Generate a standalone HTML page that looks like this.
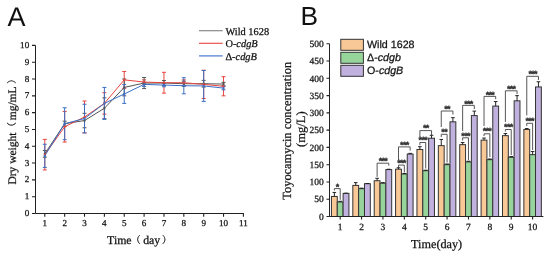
<!DOCTYPE html>
<html><head><meta charset="utf-8"><title>Figure</title>
<style>html,body{margin:0;padding:0;background:#fff;}text{stroke:#111;stroke-width:0.25px;}svg{text-rendering:geometricPrecision;}body{width:550px;height:256px;overflow:hidden;}svg{display:block;}</style>
</head><body>
<svg width="550" height="256" viewBox="0 0 550 256">
<rect width="550" height="256" fill="#fff"/>
<text x="7.6" y="25.5" font-family="'Liberation Sans',sans-serif" font-size="27" fill="#111" style="stroke:none">A</text>
<path d="M35.5 45.4V213.5H243.9" fill="none" stroke="#222" stroke-width="1"/>
<path d="M32 213.5H35.5 M32 196.69H35.5 M32 179.88H35.5 M32 163.07H35.5 M32 146.26H35.5 M32 129.45H35.5 M32 112.64H35.5 M32 95.83H35.5 M32 79.02H35.5 M32 62.21H35.5 M32 45.4H35.5 M44.8 213.5V216.7 M64.66 213.5V216.7 M84.52 213.5V216.7 M104.38 213.5V216.7 M124.24 213.5V216.7 M144.1 213.5V216.7 M163.96 213.5V216.7 M183.82 213.5V216.7 M203.68 213.5V216.7 M223.54 213.5V216.7 M243.4 213.5V216.7" fill="none" stroke="#222" stroke-width="1.1"/>
<text x="29.2" y="216.1" text-anchor="end" font-family="'Liberation Serif','Noto Serif CJK SC',serif" font-size="9.1" fill="#111">0</text>
<text x="29.2" y="199.29" text-anchor="end" font-family="'Liberation Serif','Noto Serif CJK SC',serif" font-size="9.1" fill="#111">1</text>
<text x="29.2" y="182.48" text-anchor="end" font-family="'Liberation Serif','Noto Serif CJK SC',serif" font-size="9.1" fill="#111">2</text>
<text x="29.2" y="165.67" text-anchor="end" font-family="'Liberation Serif','Noto Serif CJK SC',serif" font-size="9.1" fill="#111">3</text>
<text x="29.2" y="148.86" text-anchor="end" font-family="'Liberation Serif','Noto Serif CJK SC',serif" font-size="9.1" fill="#111">4</text>
<text x="29.2" y="132.05" text-anchor="end" font-family="'Liberation Serif','Noto Serif CJK SC',serif" font-size="9.1" fill="#111">5</text>
<text x="29.2" y="115.24" text-anchor="end" font-family="'Liberation Serif','Noto Serif CJK SC',serif" font-size="9.1" fill="#111">6</text>
<text x="29.2" y="98.43" text-anchor="end" font-family="'Liberation Serif','Noto Serif CJK SC',serif" font-size="9.1" fill="#111">7</text>
<text x="29.2" y="81.62" text-anchor="end" font-family="'Liberation Serif','Noto Serif CJK SC',serif" font-size="9.1" fill="#111">8</text>
<text x="29.2" y="64.81" text-anchor="end" font-family="'Liberation Serif','Noto Serif CJK SC',serif" font-size="9.1" fill="#111">9</text>
<text x="29.2" y="48" text-anchor="end" font-family="'Liberation Serif','Noto Serif CJK SC',serif" font-size="9.1" fill="#111">10</text>
<text x="44.8" y="226.3" text-anchor="middle" font-family="'Liberation Serif','Noto Serif CJK SC',serif" font-size="9.1" fill="#111">1</text>
<text x="64.66" y="226.3" text-anchor="middle" font-family="'Liberation Serif','Noto Serif CJK SC',serif" font-size="9.1" fill="#111">2</text>
<text x="84.52" y="226.3" text-anchor="middle" font-family="'Liberation Serif','Noto Serif CJK SC',serif" font-size="9.1" fill="#111">3</text>
<text x="104.38" y="226.3" text-anchor="middle" font-family="'Liberation Serif','Noto Serif CJK SC',serif" font-size="9.1" fill="#111">4</text>
<text x="124.24" y="226.3" text-anchor="middle" font-family="'Liberation Serif','Noto Serif CJK SC',serif" font-size="9.1" fill="#111">5</text>
<text x="144.1" y="226.3" text-anchor="middle" font-family="'Liberation Serif','Noto Serif CJK SC',serif" font-size="9.1" fill="#111">6</text>
<text x="163.96" y="226.3" text-anchor="middle" font-family="'Liberation Serif','Noto Serif CJK SC',serif" font-size="9.1" fill="#111">7</text>
<text x="183.82" y="226.3" text-anchor="middle" font-family="'Liberation Serif','Noto Serif CJK SC',serif" font-size="9.1" fill="#111">8</text>
<text x="203.68" y="226.3" text-anchor="middle" font-family="'Liberation Serif','Noto Serif CJK SC',serif" font-size="9.1" fill="#111">9</text>
<text x="223.54" y="226.3" text-anchor="middle" font-family="'Liberation Serif','Noto Serif CJK SC',serif" font-size="9.1" fill="#111">10</text>
<text x="243.4" y="226.3" text-anchor="middle" font-family="'Liberation Serif','Noto Serif CJK SC',serif" font-size="9.1" fill="#111">11</text>
<text y="244.3" font-family="'Liberation Serif','Noto Serif CJK SC',serif" font-size="11.8" fill="#111"><tspan x="107.1">Time</tspan><tspan x="131.3" y="243.4" font-family="'Liberation Serif','Noto Serif CJK SC',serif" font-size="9.4">（</tspan><tspan x="143.2" y="244.3">day</tspan><tspan x="161.9" y="243.4" font-family="'Liberation Serif','Noto Serif CJK SC',serif" font-size="9.4">）</tspan></text>
<text transform="translate(15.8 184.6) rotate(-90)" y="0" font-family="'Liberation Serif','Noto Serif CJK SC',serif" font-size="11.5" fill="#111"><tspan x="0">Dry weight</tspan><tspan x="53.2" y="-0.9" font-family="'Liberation Serif','Noto Serif CJK SC',serif" font-size="9.4">（</tspan><tspan x="64.3" y="0">mg/mL</tspan><tspan x="100.9" y="-0.9" font-family="'Liberation Serif','Noto Serif CJK SC',serif" font-size="9.4">）</tspan></text>
<path d="M44.8 139.37V169.96M42.8 139.37H46.8M42.8 169.96H46.8M64.66 111.46V142.06M62.66 111.46H66.66M62.66 142.06H66.66M84.52 101.04V132.98M82.52 101.04H86.52M82.52 132.98H86.52M104.38 92.64V114.15M102.38 92.64H106.38M102.38 114.15H106.38M124.24 71.46V88.27M122.24 71.46H126.24M122.24 88.27H126.24M144.1 79.86V84.23M142.1 79.86H146.1M142.1 84.23H146.1M163.96 72.3V93.14M161.96 72.3H165.96M161.96 93.14H165.96M183.82 79.86V85.58M181.82 79.86H185.82M181.82 85.58H185.82M203.68 70.28V98.52M201.68 70.28H205.68M201.68 98.52H205.68M223.54 76.67V95.83M221.54 76.67H225.54M221.54 95.83H225.54" fill="none" stroke="#e8443e" stroke-width="1.0"/>
<path d="M44.8 150.46V157.19M42.8 150.46H46.8M42.8 157.19H46.8M64.66 121.21V126.26M62.66 121.21H66.66M62.66 126.26H66.66M84.52 113.31V127.77M82.52 113.31H86.52M82.52 127.77H86.52M104.38 97.85V118.69M102.38 97.85H106.38M102.38 118.69H106.38M124.24 79.02V95.83M122.24 79.02H126.24M122.24 95.83H126.24M144.1 77.51V88.6M142.1 77.51H146.1M142.1 88.6H146.1M163.96 80.53V85.58M161.96 80.53H165.96M161.96 85.58H165.96M183.82 81.21V86.25M181.82 81.21H185.82M181.82 86.25H185.82M203.68 80.36V87.09M201.68 80.36H205.68M201.68 87.09H205.68M223.54 82.38V85.74M221.54 82.38H225.54M221.54 85.74H225.54" fill="none" stroke="#555" stroke-width="1.0"/>
<path d="M44.8 144.24V167.44M42.8 144.24H46.8M42.8 167.44H46.8M64.66 107.77V139.7M62.66 107.77H66.66M62.66 139.7H66.66M84.52 104.24V132.81M82.52 104.24H86.52M82.52 132.81H86.52M104.38 87.43V119.36M102.38 87.43H106.38M102.38 119.36H106.38M124.24 84.57V103.39M122.24 84.57H126.24M122.24 103.39H126.24M144.1 82.38V86.42M142.1 82.38H146.1M142.1 86.42H146.1M163.96 83.39V86.75M161.96 83.39H165.96M161.96 86.75H165.96M183.82 77.68V93.81M181.82 77.68H185.82M181.82 93.81H185.82M203.68 70.45V101.38M201.68 70.45H205.68M201.68 101.38H205.68M223.54 86.42V89.78M221.54 86.42H225.54M221.54 89.78H225.54" fill="none" stroke="#3b6fc5" stroke-width="1.0"/>
<polyline points="44.8,153.82 64.66,123.73 84.52,120.54 104.38,108.27 124.24,87.43 144.1,83.05 163.96,83.05 183.82,83.73 203.68,83.73 223.54,84.06" fill="none" stroke="#555" stroke-width="1.0"/>
<polyline points="44.8,154.67 64.66,126.76 84.52,117.01 104.38,103.39 124.24,79.86 144.1,82.05 163.96,82.72 183.82,82.72 203.68,84.4 223.54,86.25" fill="none" stroke="#e8443e" stroke-width="1.0"/>
<polyline points="44.8,155.84 64.66,123.73 84.52,118.52 104.38,103.39 124.24,93.98 144.1,84.4 163.96,85.07 183.82,85.74 203.68,85.91 223.54,88.1" fill="none" stroke="#3b6fc5" stroke-width="1.0"/>
<rect x="43.8" y="152.82" width="2" height="2" fill="#555"/>
<rect x="63.66" y="122.73" width="2" height="2" fill="#555"/>
<rect x="83.52" y="119.54" width="2" height="2" fill="#555"/>
<rect x="103.38" y="107.27" width="2" height="2" fill="#555"/>
<rect x="123.24" y="86.43" width="2" height="2" fill="#555"/>
<rect x="143.1" y="82.05" width="2" height="2" fill="#555"/>
<rect x="162.96" y="82.05" width="2" height="2" fill="#555"/>
<rect x="182.82" y="82.73" width="2" height="2" fill="#555"/>
<rect x="202.68" y="82.73" width="2" height="2" fill="#555"/>
<rect x="222.54" y="83.06" width="2" height="2" fill="#555"/>
<rect x="43.8" y="153.67" width="2" height="2" fill="#e8443e"/>
<rect x="63.66" y="125.76" width="2" height="2" fill="#e8443e"/>
<rect x="83.52" y="116.01" width="2" height="2" fill="#e8443e"/>
<rect x="103.38" y="102.39" width="2" height="2" fill="#e8443e"/>
<rect x="123.24" y="78.86" width="2" height="2" fill="#e8443e"/>
<rect x="143.1" y="81.05" width="2" height="2" fill="#e8443e"/>
<rect x="162.96" y="81.72" width="2" height="2" fill="#e8443e"/>
<rect x="182.82" y="81.72" width="2" height="2" fill="#e8443e"/>
<rect x="202.68" y="83.4" width="2" height="2" fill="#e8443e"/>
<rect x="222.54" y="85.25" width="2" height="2" fill="#e8443e"/>
<rect x="43.8" y="154.84" width="2" height="2" fill="#3b6fc5"/>
<rect x="63.66" y="122.73" width="2" height="2" fill="#3b6fc5"/>
<rect x="83.52" y="117.52" width="2" height="2" fill="#3b6fc5"/>
<rect x="103.38" y="102.39" width="2" height="2" fill="#3b6fc5"/>
<rect x="123.24" y="92.98" width="2" height="2" fill="#3b6fc5"/>
<rect x="143.1" y="83.4" width="2" height="2" fill="#3b6fc5"/>
<rect x="162.96" y="84.07" width="2" height="2" fill="#3b6fc5"/>
<rect x="182.82" y="84.74" width="2" height="2" fill="#3b6fc5"/>
<rect x="202.68" y="84.91" width="2" height="2" fill="#3b6fc5"/>
<rect x="222.54" y="87.1" width="2" height="2" fill="#3b6fc5"/>
<path d="M199 30.7H222.7" stroke="#8a8a8a" stroke-width="1.2"/>
<text x="225.4" y="34.6" font-family="'Liberation Serif','Noto Serif CJK SC',serif" font-size="10.4" fill="#111">Wild 1628</text>
<path d="M199 43.3H222.7" stroke="#ea5252" stroke-width="1.2"/>
<text x="225.4" y="47.2" font-family="'Liberation Serif','Noto Serif CJK SC',serif" font-size="10.4" fill="#111">O-<tspan font-style="italic">cdgB</tspan></text>
<path d="M199 55.9H222.7" stroke="#4a7acc" stroke-width="1.2"/>
<text x="225.4" y="59.8" font-family="'Liberation Serif','Noto Serif CJK SC',serif" font-size="10.4" fill="#111">Δ-<tspan font-style="italic">cdgB</tspan></text>
<text x="300.4" y="25.2" font-family="'Liberation Sans',sans-serif" font-size="26.3" fill="#111" style="stroke:none">B</text>
<rect x="331.44" y="196.46" width="5.83" height="20.04" fill="#f9c897" stroke="#333" stroke-width="1"/>
<rect x="337.27" y="201.99" width="5.83" height="14.51" fill="#97d49b" stroke="#333" stroke-width="1"/>
<rect x="343.11" y="193.35" width="5.83" height="23.15" fill="#c0b1de" stroke="#333" stroke-width="1"/>
<rect x="352.82" y="185.41" width="5.83" height="31.09" fill="#f9c897" stroke="#333" stroke-width="1"/>
<rect x="358.65" y="188.69" width="5.83" height="27.81" fill="#97d49b" stroke="#333" stroke-width="1"/>
<rect x="364.49" y="183.68" width="5.83" height="32.82" fill="#c0b1de" stroke="#333" stroke-width="1"/>
<rect x="374.2" y="180.74" width="5.83" height="35.76" fill="#f9c897" stroke="#333" stroke-width="1"/>
<rect x="380.03" y="183.16" width="5.83" height="33.34" fill="#97d49b" stroke="#333" stroke-width="1"/>
<rect x="385.87" y="169.58" width="5.83" height="46.92" fill="#c0b1de" stroke="#333" stroke-width="1"/>
<rect x="395.58" y="169.17" width="5.83" height="47.33" fill="#f9c897" stroke="#333" stroke-width="1"/>
<rect x="401.41" y="174" width="5.83" height="42.5" fill="#97d49b" stroke="#333" stroke-width="1"/>
<rect x="407.25" y="154.07" width="5.83" height="62.43" fill="#c0b1de" stroke="#333" stroke-width="1"/>
<rect x="416.96" y="149.47" width="5.83" height="67.03" fill="#f9c897" stroke="#333" stroke-width="1"/>
<rect x="422.79" y="170.72" width="5.83" height="45.78" fill="#97d49b" stroke="#333" stroke-width="1"/>
<rect x="428.62" y="138.24" width="5.83" height="78.26" fill="#c0b1de" stroke="#333" stroke-width="1"/>
<rect x="438.34" y="145.67" width="5.83" height="70.83" fill="#f9c897" stroke="#333" stroke-width="1"/>
<rect x="444.17" y="164.68" width="5.83" height="51.82" fill="#97d49b" stroke="#333" stroke-width="1"/>
<rect x="450" y="121.83" width="5.83" height="94.67" fill="#c0b1de" stroke="#333" stroke-width="1"/>
<rect x="459.72" y="144.64" width="5.83" height="71.86" fill="#f9c897" stroke="#333" stroke-width="1"/>
<rect x="465.55" y="161.91" width="5.83" height="54.59" fill="#97d49b" stroke="#333" stroke-width="1"/>
<rect x="471.38" y="115.61" width="5.83" height="100.89" fill="#c0b1de" stroke="#333" stroke-width="1"/>
<rect x="481.1" y="140.14" width="5.83" height="76.36" fill="#f9c897" stroke="#333" stroke-width="1"/>
<rect x="486.93" y="159.67" width="5.83" height="56.83" fill="#97d49b" stroke="#333" stroke-width="1"/>
<rect x="492.76" y="106.08" width="5.83" height="110.42" fill="#c0b1de" stroke="#333" stroke-width="1"/>
<rect x="502.48" y="135.65" width="5.83" height="80.85" fill="#f9c897" stroke="#333" stroke-width="1"/>
<rect x="508.31" y="157.25" width="5.83" height="59.25" fill="#97d49b" stroke="#333" stroke-width="1"/>
<rect x="514.14" y="100.83" width="5.83" height="115.67" fill="#c0b1de" stroke="#333" stroke-width="1"/>
<rect x="523.87" y="129.43" width="5.83" height="87.07" fill="#f9c897" stroke="#333" stroke-width="1"/>
<rect x="529.7" y="154.66" width="5.83" height="61.84" fill="#97d49b" stroke="#333" stroke-width="1"/>
<rect x="535.52" y="86.94" width="5.83" height="129.56" fill="#c0b1de" stroke="#333" stroke-width="1"/>
<path d="M334.36 196.46V192.45M332.56 192.45H336.16M340.19 201.99V201.3M338.39 201.3H341.99M346.02 193.35V193.21M344.22 193.21H347.82M355.74 185.41V182.64M353.94 182.64H357.54M361.57 188.69V188.17M359.77 188.17H363.37M367.4 183.68V183.54M365.6 183.54H369.2M377.12 180.74V178.32M375.32 178.32H378.92M382.95 183.16V182.64M381.15 182.64H384.75M388.78 169.58V169.24M386.98 169.24H390.58M398.5 169.17V167.78M396.7 167.78H400.3M404.33 174V173.49M402.53 173.49H406.13M410.16 154.07V153.38M408.36 153.38H411.96M419.88 149.47V146.71M418.08 146.71H421.68M425.71 170.72V170.2M423.91 170.2H427.51M431.54 138.24V135.31M429.74 135.31H433.34M441.26 145.67V139.45M439.46 139.45H443.06M447.09 164.68V163.98M445.29 163.98H448.89M452.92 121.83V117.69M451.12 117.69H454.72M462.64 144.64V142.56M460.84 142.56H464.44M468.47 161.91V161.22M466.67 161.22H470.27M474.3 115.61V111.12M472.5 111.12H476.1M484.02 140.14V138.07M482.22 138.07H485.82M489.85 159.67V158.97M488.05 158.97H491.65M495.68 106.08V101.59M493.88 101.59H497.48M505.4 135.65V133.58M503.6 133.58H507.2M511.23 157.25V156.56M509.43 156.56H513.03M517.06 100.83V95.64M515.26 95.64H518.86M526.78 129.43V128.57M524.98 128.57H528.58M532.61 154.66V151.55M530.81 151.55H534.41M538.44 86.94V81.76M536.64 81.76H540.24" fill="none" stroke="#222" stroke-width="1"/>
<path d="M329.5 43.75V216.5H543.4" fill="none" stroke="#222" stroke-width="1"/>
<path d="M326.5 216.5H329.5 M326.5 199.22H329.5 M326.5 181.95H329.5 M326.5 164.68H329.5 M326.5 147.4H329.5 M326.5 130.12H329.5 M326.5 112.85H329.5 M326.5 95.58H329.5 M326.5 78.3H329.5 M326.5 61.03H329.5 M326.5 43.75H329.5 M340.19 216.5V219.5 M361.57 216.5V219.5 M382.95 216.5V219.5 M404.33 216.5V219.5 M425.71 216.5V219.5 M447.09 216.5V219.5 M468.47 216.5V219.5 M489.85 216.5V219.5 M511.23 216.5V219.5 M532.61 216.5V219.5" fill="none" stroke="#222" stroke-width="1.1"/>
<text x="323.7" y="219.7" text-anchor="end" font-family="'Liberation Serif','Noto Serif CJK SC',serif" font-size="9.5" fill="#111">0</text>
<text x="323.7" y="202.42" text-anchor="end" font-family="'Liberation Serif','Noto Serif CJK SC',serif" font-size="9.5" fill="#111">50</text>
<text x="323.7" y="185.15" text-anchor="end" font-family="'Liberation Serif','Noto Serif CJK SC',serif" font-size="9.5" fill="#111">100</text>
<text x="323.7" y="167.88" text-anchor="end" font-family="'Liberation Serif','Noto Serif CJK SC',serif" font-size="9.5" fill="#111">150</text>
<text x="323.7" y="150.6" text-anchor="end" font-family="'Liberation Serif','Noto Serif CJK SC',serif" font-size="9.5" fill="#111">200</text>
<text x="323.7" y="133.32" text-anchor="end" font-family="'Liberation Serif','Noto Serif CJK SC',serif" font-size="9.5" fill="#111">250</text>
<text x="323.7" y="116.05" text-anchor="end" font-family="'Liberation Serif','Noto Serif CJK SC',serif" font-size="9.5" fill="#111">300</text>
<text x="323.7" y="98.78" text-anchor="end" font-family="'Liberation Serif','Noto Serif CJK SC',serif" font-size="9.5" fill="#111">350</text>
<text x="323.7" y="81.5" text-anchor="end" font-family="'Liberation Serif','Noto Serif CJK SC',serif" font-size="9.5" fill="#111">400</text>
<text x="323.7" y="64.23" text-anchor="end" font-family="'Liberation Serif','Noto Serif CJK SC',serif" font-size="9.5" fill="#111">450</text>
<text x="323.7" y="46.95" text-anchor="end" font-family="'Liberation Serif','Noto Serif CJK SC',serif" font-size="9.5" fill="#111">500</text>
<text x="340.19" y="229.6" text-anchor="middle" font-family="'Liberation Serif','Noto Serif CJK SC',serif" font-size="9.5" fill="#111">1</text>
<text x="361.57" y="229.6" text-anchor="middle" font-family="'Liberation Serif','Noto Serif CJK SC',serif" font-size="9.5" fill="#111">2</text>
<text x="382.95" y="229.6" text-anchor="middle" font-family="'Liberation Serif','Noto Serif CJK SC',serif" font-size="9.5" fill="#111">3</text>
<text x="404.33" y="229.6" text-anchor="middle" font-family="'Liberation Serif','Noto Serif CJK SC',serif" font-size="9.5" fill="#111">4</text>
<text x="425.71" y="229.6" text-anchor="middle" font-family="'Liberation Serif','Noto Serif CJK SC',serif" font-size="9.5" fill="#111">5</text>
<text x="447.09" y="229.6" text-anchor="middle" font-family="'Liberation Serif','Noto Serif CJK SC',serif" font-size="9.5" fill="#111">6</text>
<text x="468.47" y="229.6" text-anchor="middle" font-family="'Liberation Serif','Noto Serif CJK SC',serif" font-size="9.5" fill="#111">7</text>
<text x="489.85" y="229.6" text-anchor="middle" font-family="'Liberation Serif','Noto Serif CJK SC',serif" font-size="9.5" fill="#111">8</text>
<text x="511.23" y="229.6" text-anchor="middle" font-family="'Liberation Serif','Noto Serif CJK SC',serif" font-size="9.5" fill="#111">9</text>
<text x="532.61" y="229.6" text-anchor="middle" font-family="'Liberation Serif','Noto Serif CJK SC',serif" font-size="9.5" fill="#111">10</text>
<text x="411.1" y="247.9" font-family="'Liberation Serif','Noto Serif CJK SC',serif" font-size="12.2" fill="#111">Time(day)</text>
<text transform="translate(291.2 199.7) rotate(-90)" font-family="'Liberation Serif','Noto Serif CJK SC',serif" font-size="12.4" fill="#111">Toyocamycin concentration</text>
<text transform="translate(305.3 129.1) rotate(-90)" text-anchor="middle" font-family="'Liberation Serif','Noto Serif CJK SC',serif" font-size="12.6" fill="#111">(mg/L)</text>
<rect x="340.8" y="39.3" width="22.6" height="11" fill="#f9c897" stroke="#333" stroke-width="1"/>
<text x="367" y="47.7" font-family="'Liberation Sans',sans-serif" font-size="10.7" fill="#111">Wild 1628</text>
<rect x="340.8" y="52.3" width="22.6" height="11" fill="#97d49b" stroke="#333" stroke-width="1"/>
<text x="367" y="60.7" font-family="'Liberation Sans',sans-serif" font-size="10.7" fill="#111">Δ-<tspan font-style="italic">cdgb</tspan></text>
<rect x="340.8" y="65.3" width="22.6" height="11" fill="#c0b1de" stroke="#333" stroke-width="1"/>
<text x="367" y="73.7" font-family="'Liberation Sans',sans-serif" font-size="10.7" fill="#111">O-<tspan font-style="italic">cdgB</tspan></text>
<text x="337.27" y="190.3" text-anchor="middle" font-family="'Liberation Sans',sans-serif" font-weight="bold" font-size="9" letter-spacing="-0.7" fill="#3a3a3a">*</text>
<text x="382.95" y="163.6" text-anchor="middle" font-family="'Liberation Sans',sans-serif" font-weight="bold" font-size="9" letter-spacing="-0.7" fill="#3a3a3a">***</text>
<text x="401.41" y="166.3" text-anchor="middle" font-family="'Liberation Sans',sans-serif" font-weight="bold" font-size="9" letter-spacing="-0.7" fill="#3a3a3a">***</text>
<text x="404.33" y="147.6" text-anchor="middle" font-family="'Liberation Sans',sans-serif" font-weight="bold" font-size="9" letter-spacing="-0.7" fill="#3a3a3a">***</text>
<text x="422.79" y="143.3" text-anchor="middle" font-family="'Liberation Sans',sans-serif" font-weight="bold" font-size="9" letter-spacing="-0.7" fill="#3a3a3a">***</text>
<text x="425.71" y="130.9" text-anchor="middle" font-family="'Liberation Sans',sans-serif" font-weight="bold" font-size="9" letter-spacing="-0.7" fill="#3a3a3a">**</text>
<text x="444.17" y="135.2" text-anchor="middle" font-family="'Liberation Sans',sans-serif" font-weight="bold" font-size="9" letter-spacing="-0.7" fill="#3a3a3a">**</text>
<text x="447.09" y="112.1" text-anchor="middle" font-family="'Liberation Sans',sans-serif" font-weight="bold" font-size="9" letter-spacing="-0.7" fill="#3a3a3a">**</text>
<text x="465.55" y="138.6" text-anchor="middle" font-family="'Liberation Sans',sans-serif" font-weight="bold" font-size="9" letter-spacing="-0.7" fill="#3a3a3a">***</text>
<text x="468.47" y="106.6" text-anchor="middle" font-family="'Liberation Sans',sans-serif" font-weight="bold" font-size="9" letter-spacing="-0.7" fill="#3a3a3a">***</text>
<text x="486.93" y="134.3" text-anchor="middle" font-family="'Liberation Sans',sans-serif" font-weight="bold" font-size="9" letter-spacing="-0.7" fill="#3a3a3a">***</text>
<text x="489.85" y="97.8" text-anchor="middle" font-family="'Liberation Sans',sans-serif" font-weight="bold" font-size="9" letter-spacing="-0.7" fill="#3a3a3a">***</text>
<text x="508.31" y="130.2" text-anchor="middle" font-family="'Liberation Sans',sans-serif" font-weight="bold" font-size="9" letter-spacing="-0.7" fill="#3a3a3a">***</text>
<text x="511.23" y="91.8" text-anchor="middle" font-family="'Liberation Sans',sans-serif" font-weight="bold" font-size="9" letter-spacing="-0.7" fill="#3a3a3a">***</text>
<text x="529.69" y="124.3" text-anchor="middle" font-family="'Liberation Sans',sans-serif" font-weight="bold" font-size="9" letter-spacing="-0.7" fill="#3a3a3a">***</text>
<text x="532.61" y="77.4" text-anchor="middle" font-family="'Liberation Sans',sans-serif" font-weight="bold" font-size="9" letter-spacing="-0.7" fill="#3a3a3a">***</text>
<path d="M334.36 190.5V188.6H340.19V199.8M377.12 176.9V163.2H388.78V165.6M398.5 167.6V165.1H404.33V172.6M398.5 160.6V146.9H410.16V150.6M419.88 145.2V142.5H425.71V168.5M419.88 137V130.6H431.54V135M441.26 137V134.3H447.09V162.5M441.26 127V111H452.92V114.5M462.64 140.5V137.8H468.47V160M462.64 131V105.4H474.3V109.1M484.02 136V133.8H489.85V157M484.02 126V96.4H495.68V99.2M505.4 131.5V129.5H511.23V155M505.4 122V90.8H517.06V94.1M526.78 126V123.3H532.61V150M526.78 115.4V76.3H538.44V80" fill="none" stroke="#444" stroke-width="0.9"/>
</svg>
</body></html>
